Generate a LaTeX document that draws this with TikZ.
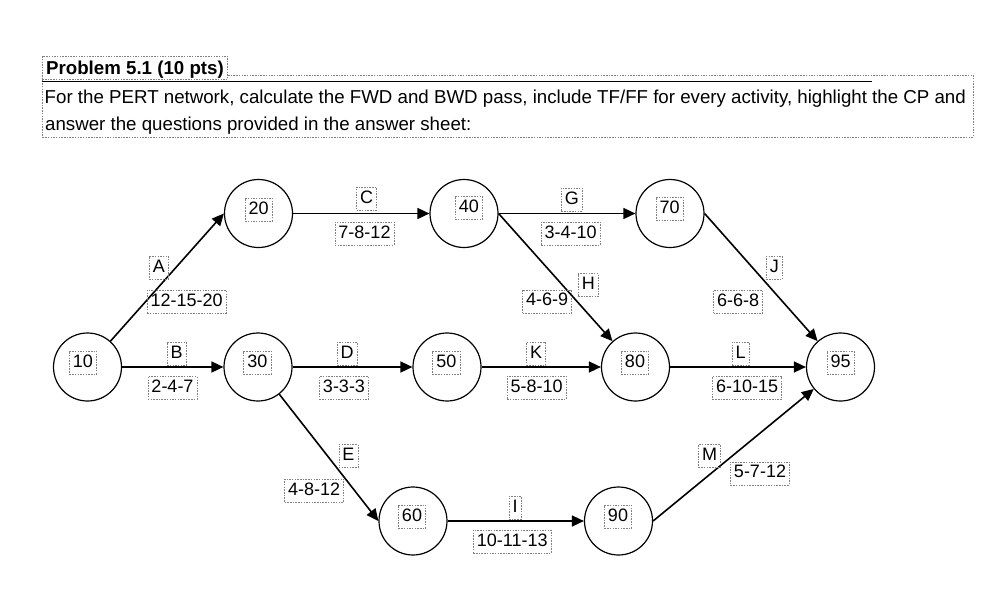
\documentclass[tikz,border=0pt]{standalone}
\usepackage{fontspec}
\setmainfont{Liberation Sans}
\usetikzlibrary{arrows.meta}
\tikzset{
  ev/.style={circle, draw, line width=1.2pt, minimum size=68pt, inner sep=0pt},
  dbox/.style={draw=gray, dash pattern=on 1.5pt off 1.2pt, line width=0.6pt},
  lbl/.style={dbox, font=\fontsize{18}{21}\selectfont, text height=16pt, text depth=7pt, inner ysep=0pt, inner xsep=3.5pt},
  act/.style={line width=1.6pt, -{Triangle[length=12pt,width=11pt]}},
  body/.style={anchor=base west, inner sep=0pt, font=\fontsize{18.7}{22}\selectfont}
}
\begin{document}
\begin{tikzpicture}[x=1pt,y=-1pt]
\useasboundingbox (0,0) rectangle (995,605);
% header
\draw[dbox] (42.3,75) rectangle (973,137);
\node[dbox, fill=white, font=\fontsize{18.7}{22}\selectfont\bfseries, anchor=base, text height=18pt, text depth=5.3pt, inner sep=0pt, minimum width=185.4pt] (title) at (135,74) {Problem 5.1 (10 pts)};
\draw[line width=1pt] (42.3,81.7) -- (872,81.7);
\node[body] (line1) at (44.5,103.3) {For the PERT network, calculate the FWD and BWD pass, include TF/FF for every activity, highlight the CP and};
\node[body] (line2) at (45,130) {answer the questions provided in the answer sheet:};
% events
\node[ev] (n10) at (87.5,367) {};
\node[ev] (n20) at (258.5,213.5) {};
\node[ev] (n30) at (258,367) {};
\node[ev] (n40) at (464,213.5) {};
\node[ev] (n50) at (447,367) {};
\node[ev] (n80) at (635.5,367) {};
\node[ev] (n70) at (670,213.5) {};
\node[ev] (n95) at (840.5,367) {};
\node[ev] (n60) at (413,521) {};
\node[ev] (n90) at (618.5,521) {};
\node[lbl] (t10) at (83,362.5) {10};
\node[lbl] (t20) at (258.7,209.5) {20};
\node[lbl] (t30) at (257.3,362.5) {30};
\node[lbl] (t40) at (468.8,208) {40};
\node[lbl] (t50) at (446.3,362.5) {50};
\node[lbl] (t80) at (635,362.5) {80};
\node[lbl] (t70) at (669.7,208.5) {70};
\node[lbl] (t95) at (840.5,363) {95};
\node[lbl] (t60) at (412,516.5) {60};
\node[lbl] (t90) at (618,516.5) {90};
% activities
\draw[act] (n10) -- (n20.west);
\draw[act] (n10) -- (n30);
\draw[act] (n20) -- (n40);
\draw[act] (n30) -- (n50);
\draw[act] (n30) -- (n60.west);
\draw[act] (n40) -- (n70);
\draw[act] (n40.east) -- (n80);
\draw[act] (n50) -- (n80);
\draw[act] (n60) -- (n90);
\draw[act] (n70.east) -- (n95);
\draw[act] (n80) -- (n95);
\draw[act] (n90.east) -- (n95);
% activity labels
\node[lbl] (lA) at (158.8,267.7) {A};
\node[lbl] (dA) at (186.7,301.7) {12-15-20};
\node[lbl] (lB) at (176.7,353.8) {B};
\node[lbl] (dB) at (172.5,388) {2-4-7};
\node[lbl] (lC) at (366.5,198.5) {C};
\node[lbl] (dC) at (364.5,233.5) {7-8-12};
\node[lbl] (lD) at (347,353.7) {D};
\node[lbl] (dD) at (344,388) {3-3-3};
\node[lbl] (lG) at (571.8,199.5) {G};
\node[lbl] (dG) at (570.7,233.7) {3-4-10};
\node[lbl] (lH) at (588.3,285) {H};
\node[lbl] (dH) at (547.2,301.3) {4-6-9};
\node[lbl] (lK) at (536.2,353.5) {K};
\node[lbl] (dK) at (536.7,387.8) {5-8-10};
\node[lbl] (lJ) at (774.3,267.8) {J};
\node[lbl] (dJ) at (738,301.7) {6-6-8};
\node[lbl] (lL) at (740.5,353.8) {L};
\node[lbl] (dL) at (747.2,388) {6-10-15};
\node[lbl] (lE) at (348.3,456.2) {E};
\node[lbl] (dE) at (314.2,490.7) {4-8-12};
\node[lbl] (lI) at (515,507.7) {I};
\node[lbl] (dI) at (512.2,541.7) {10-11-13};
\node[lbl] (lM) at (709.5,456.2) {M};
\node[lbl] (dM) at (760,473.3) {5-7-12};
\end{tikzpicture}
\end{document}
